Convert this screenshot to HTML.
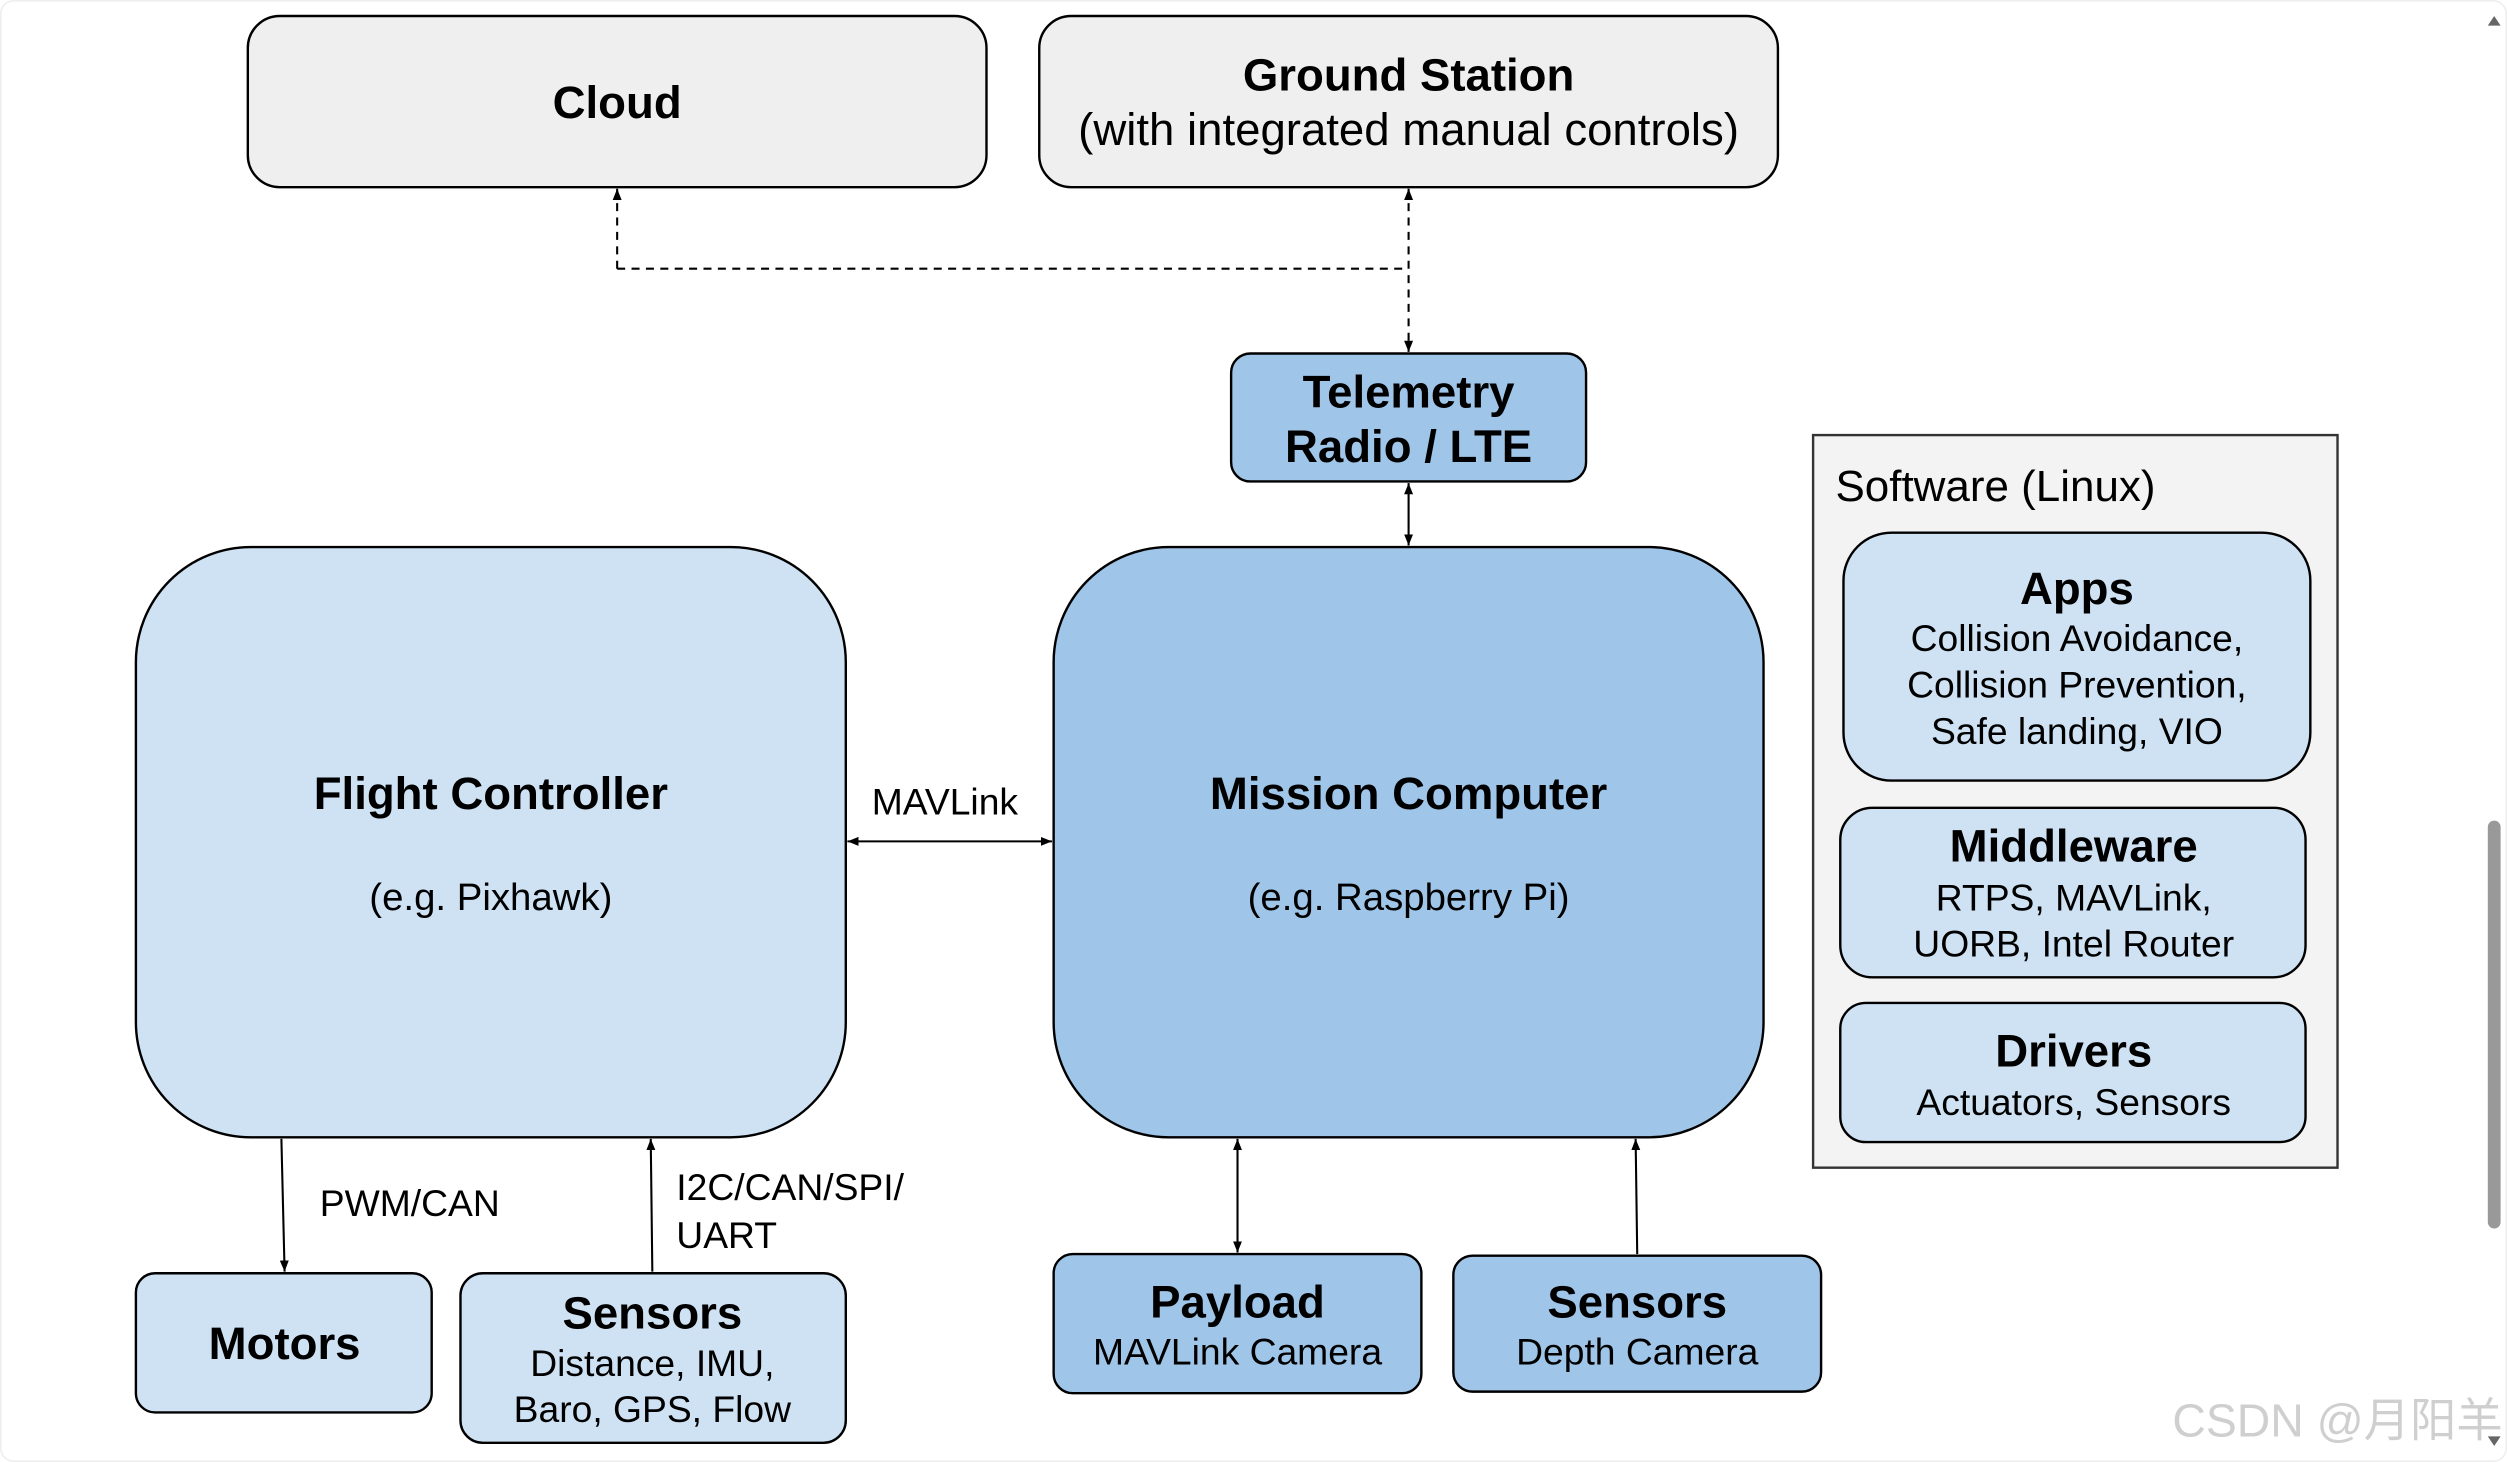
<!DOCTYPE html>
<html><head><meta charset="utf-8"><style>
html,body{margin:0;padding:0;background:#fff;}
svg{display:block;}
text{font-family:"Liberation Sans","Noto Sans CJK SC",sans-serif;fill:#000;dominant-baseline:central;text-anchor:middle;}
.b{font-weight:bold;font-size:28.5px;}
.n{font-size:23.3px;}
</style></head><body>
<svg width="2507" height="1462" viewBox="0 0 1568 914" preserveAspectRatio="none" xmlns="http://www.w3.org/2000/svg">
<defs>
<marker id="a" viewBox="0 0 10 10" refX="10" refY="5" markerWidth="7" markerHeight="7" orient="auto-start-reverse" markerUnits="userSpaceOnUse"><path d="M0,1 L10,5 L0,9 z" fill="#000"/></marker>
</defs>
<rect x="0.5" y="0.5" width="1567" height="913" rx="8" fill="#fff" stroke="#eee"/>
<rect x="155" y="10" width="462" height="107" rx="20" fill="#efefef" stroke="#000" stroke-width="1.5"/>
<text class="b" x="386" y="64">Cloud</text>
<rect x="650" y="10" width="462" height="107" rx="20" fill="#efefef" stroke="#000" stroke-width="1.5"/>
<text class="b" x="881" y="47">Ground Station</text>
<text x="881" y="81" style="font-size:28.5px">(with integrated manual controls)</text>
<path d="M386,168 H881" stroke="#000" stroke-width="1.3" stroke-dasharray="5,4" fill="none"/>
<path d="M386,168 V118" stroke="#000" stroke-width="1.3" stroke-dasharray="5,4" fill="none" marker-end="url(#a)"/>
<path d="M881,118 V220" stroke="#000" stroke-width="1.3" stroke-dasharray="5,4" fill="none" marker-start="url(#a)" marker-end="url(#a)"/>
<rect x="770" y="221" width="222" height="80" rx="12" fill="#9fc5e8" stroke="#000" stroke-width="1.5"/>
<text class="b" x="881" y="245">Telemetry</text>
<text class="b" x="881" y="279">Radio / LTE</text>
<path d="M881,302 V341" stroke="#000" stroke-width="1.3" marker-start="url(#a)" marker-end="url(#a)"/>
<rect x="85" y="342" width="444" height="369" rx="72" fill="#cfe2f3" stroke="#000" stroke-width="1.5"/>
<text class="b" x="307" y="496">Flight Controller</text>
<text x="307" y="561" style="font-size:24px">(e.g. Pixhawk)</text>
<rect x="659" y="342" width="444" height="369" rx="72" fill="#9fc5e8" stroke="#000" stroke-width="1.5"/>
<text class="b" x="881" y="496">Mission Computer</text>
<text x="881" y="561" style="font-size:24px">(e.g. Raspberry Pi)</text>
<path d="M530,526 H658" stroke="#000" stroke-width="1.3" marker-start="url(#a)" marker-end="url(#a)"/>
<text class="n" x="591" y="501">MAVLink</text>
<path d="M176,712 L178,795" stroke="#000" stroke-width="1.3" marker-end="url(#a)"/>
<text class="n" x="200" y="752" style="text-anchor:start">PWM/CAN</text>
<path d="M408,795 L407,712" stroke="#000" stroke-width="1.3" marker-end="url(#a)"/>
<text class="n" x="423" y="742" style="text-anchor:start">I2C/CAN/SPI/</text>
<text class="n" x="423" y="772" style="text-anchor:start">UART</text>
<path d="M774,712 V783" stroke="#000" stroke-width="1.3" marker-start="url(#a)" marker-end="url(#a)"/>
<path d="M1024,784 L1023,712" stroke="#000" stroke-width="1.3" marker-end="url(#a)"/>
<rect x="85" y="796" width="185" height="87" rx="12" fill="#cfe2f3" stroke="#000" stroke-width="1.5"/>
<text class="b" x="178" y="840">Motors</text>
<rect x="288" y="796" width="241" height="106" rx="14" fill="#cfe2f3" stroke="#000" stroke-width="1.5"/>
<text class="b" x="408" y="821">Sensors</text>
<text class="n" x="408" y="852">Distance, IMU,</text>
<text class="n" x="408" y="881">Baro, GPS, Flow</text>
<rect x="659" y="784" width="230" height="87" rx="12" fill="#9fc5e8" stroke="#000" stroke-width="1.5"/>
<text class="b" x="774" y="814">Payload</text>
<text class="n" x="774" y="845">MAVLink Camera</text>
<rect x="909" y="785" width="230" height="85" rx="12" fill="#9fc5e8" stroke="#000" stroke-width="1.5"/>
<text class="b" x="1024" y="814">Sensors</text>
<text class="n" x="1024" y="845">Depth Camera</text>
<rect x="1134" y="272" width="328" height="458" fill="#f3f3f3" stroke="#333" stroke-width="1.5"/>
<text x="1148" y="304" style="font-size:27.5px;text-anchor:start">Software (Linux)</text>
<rect x="1153" y="333" width="292" height="155" rx="30" fill="#cfe2f3" stroke="#000" stroke-width="1.5"/>
<text class="b" x="1299" y="368">Apps</text>
<text class="n" x="1299" y="399">Collision Avoidance,</text>
<text class="n" x="1299" y="428">Collision Prevention,</text>
<text class="n" x="1299" y="457">Safe landing, VIO</text>
<rect x="1151" y="505" width="291" height="106" rx="20" fill="#cfe2f3" stroke="#000" stroke-width="1.5"/>
<text class="b" x="1297" y="529">Middleware</text>
<text class="n" x="1297" y="561">RTPS, MAVLink,</text>
<text class="n" x="1297" y="590">UORB, Intel Router</text>
<rect x="1151" y="627" width="291" height="87" rx="16" fill="#cfe2f3" stroke="#000" stroke-width="1.5"/>
<text class="b" x="1297" y="657">Drivers</text>
<text class="n" x="1297" y="689">Actuators, Sensors</text>
<rect x="1556" y="513" width="8" height="255" rx="4" fill="#999"/>
<path d="M1556,898 L1564,898 L1560,904 z" fill="#666"/>
<path d="M1556,16 L1564,16 L1560,10 z" fill="#666"/>
<text x="1462" y="888" style="font-size:29px;fill:#cfcfcf">CSDN @月阳羊</text>
</svg>
</body></html>
